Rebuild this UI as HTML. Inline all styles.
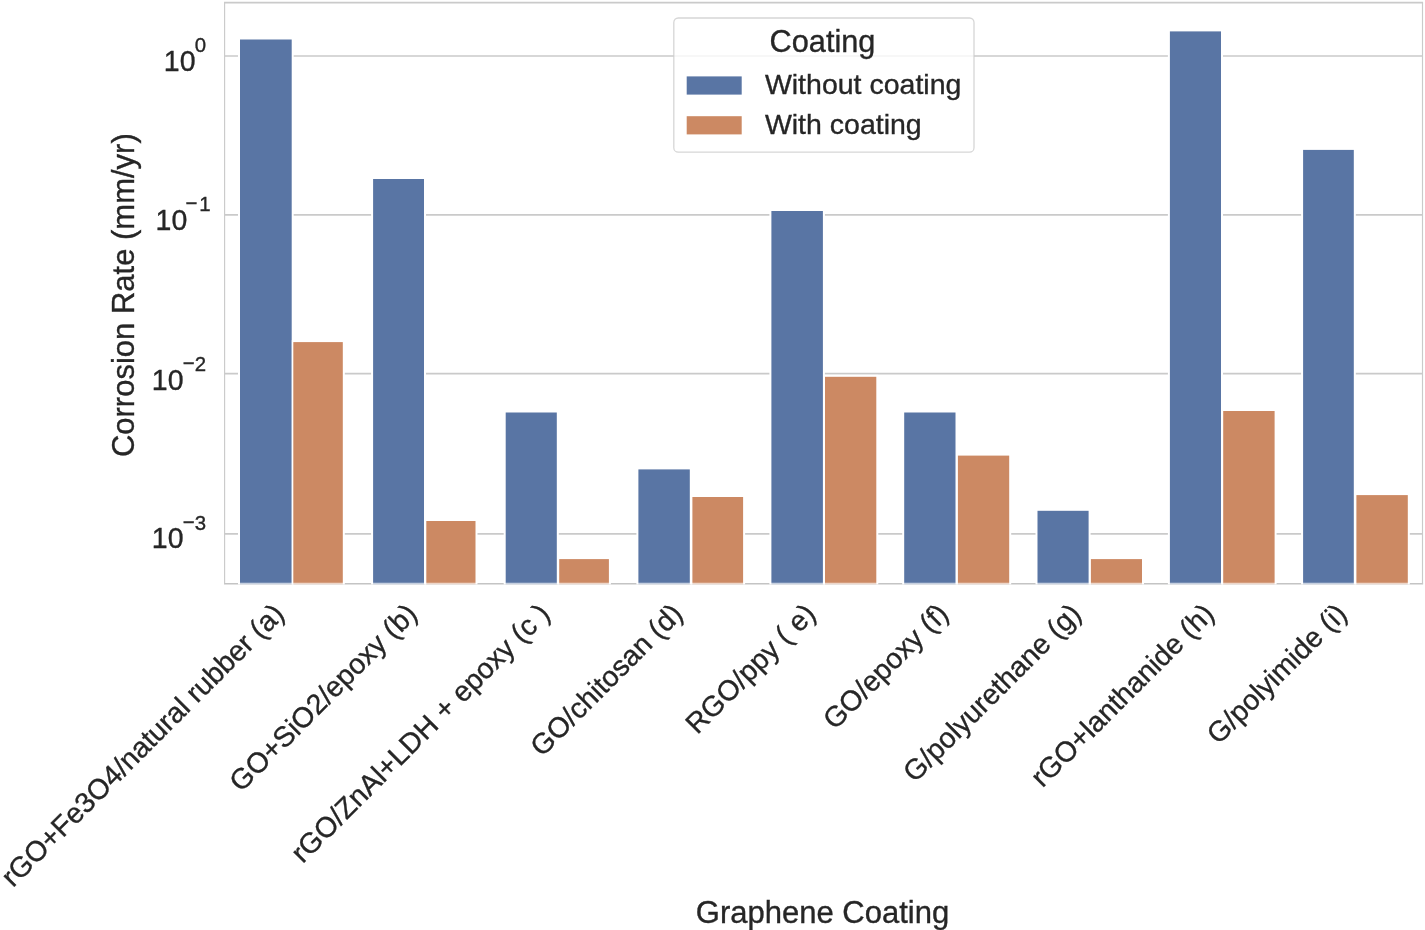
<!DOCTYPE html>
<html><head><meta charset="utf-8"><title>Corrosion rate chart</title>
<style>html,body{margin:0;padding:0;background:#fff}body{width:1425px;height:930px;overflow:hidden}svg{display:block}</style>
</head><body>
<svg width="1425" height="930" viewBox="0 0 1425 930" font-family="'Liberation Sans', Arial, sans-serif" fill="#262626" stroke="#262626" stroke-width="0.35">
<rect width="1425" height="930" fill="#fff" stroke="none"/>
<g id="grid">
<line x1="224.6" x2="1422.5" y1="56.0" y2="56.0" stroke="#cacaca" stroke-width="1.7"/>
<line x1="224.6" x2="1422.5" y1="214.8" y2="214.8" stroke="#cacaca" stroke-width="1.7"/>
<line x1="224.6" x2="1422.5" y1="373.7" y2="373.7" stroke="#cacaca" stroke-width="1.7"/>
<line x1="224.6" x2="1422.5" y1="533.9" y2="533.9" stroke="#cacaca" stroke-width="1.7"/>
</g>
<g id="spines">
<line x1="224.0" x2="1423.1" y1="2.7" y2="2.7" stroke="#cacaca" stroke-width="1.7"/>
<line x1="224.0" x2="1423.1" y1="583.65" y2="583.65" stroke="#c4c4c4" stroke-width="1.5"/>
<line x1="224.6" x2="224.6" y1="2.7" y2="583.65" stroke="#cacaca" stroke-width="1.15"/>
<line x1="1422.5" x2="1422.5" y1="2.7" y2="583.65" stroke="#cacaca" stroke-width="1.15"/>
</g>
<g id="bars" stroke="none">
<rect x="238.00" y="37.50" width="55.70" height="546.95" fill="#fff"/>
<rect x="240.00" y="39.50" width="51.70" height="543.30" fill="#5975a4"/>
<rect x="240.00" y="582.80" width="51.70" height="1.5" fill="#5975a4" fill-opacity="0.35"/>
<rect x="291.80" y="340.10" width="53.00" height="244.35" fill="#fff"/>
<rect x="293.30" y="342.10" width="49.50" height="240.70" fill="#cc8963"/>
<rect x="293.30" y="582.80" width="49.50" height="1.5" fill="#cc8963" fill-opacity="0.35"/>
<rect x="371.10" y="177.00" width="54.90" height="407.45" fill="#fff"/>
<rect x="373.10" y="179.00" width="50.90" height="403.80" fill="#5975a4"/>
<rect x="373.10" y="582.80" width="50.90" height="1.5" fill="#5975a4" fill-opacity="0.35"/>
<rect x="424.80" y="519.00" width="52.70" height="65.45" fill="#fff"/>
<rect x="426.30" y="521.00" width="49.20" height="61.80" fill="#cc8963"/>
<rect x="426.30" y="582.80" width="49.20" height="1.5" fill="#cc8963" fill-opacity="0.35"/>
<rect x="503.70" y="410.50" width="55.10" height="173.95" fill="#fff"/>
<rect x="505.70" y="412.50" width="51.10" height="170.30" fill="#5975a4"/>
<rect x="505.70" y="582.80" width="51.10" height="1.5" fill="#5975a4" fill-opacity="0.35"/>
<rect x="557.70" y="557.10" width="53.20" height="27.35" fill="#fff"/>
<rect x="559.20" y="559.10" width="49.70" height="23.70" fill="#cc8963"/>
<rect x="559.20" y="582.80" width="49.70" height="1.5" fill="#cc8963" fill-opacity="0.35"/>
<rect x="636.40" y="467.40" width="55.40" height="117.05" fill="#fff"/>
<rect x="638.40" y="469.40" width="51.40" height="113.40" fill="#5975a4"/>
<rect x="638.40" y="582.80" width="51.40" height="1.5" fill="#5975a4" fill-opacity="0.35"/>
<rect x="690.90" y="495.00" width="54.20" height="89.45" fill="#fff"/>
<rect x="692.40" y="497.00" width="50.70" height="85.80" fill="#cc8963"/>
<rect x="692.40" y="582.80" width="50.70" height="1.5" fill="#cc8963" fill-opacity="0.35"/>
<rect x="769.40" y="209.00" width="55.50" height="375.45" fill="#fff"/>
<rect x="771.40" y="211.00" width="51.50" height="371.80" fill="#5975a4"/>
<rect x="771.40" y="582.80" width="51.50" height="1.5" fill="#5975a4" fill-opacity="0.35"/>
<rect x="823.50" y="374.80" width="54.80" height="209.65" fill="#fff"/>
<rect x="825.00" y="376.80" width="51.30" height="206.00" fill="#cc8963"/>
<rect x="825.00" y="582.80" width="51.30" height="1.5" fill="#cc8963" fill-opacity="0.35"/>
<rect x="902.20" y="410.50" width="55.30" height="173.95" fill="#fff"/>
<rect x="904.20" y="412.50" width="51.30" height="170.30" fill="#5975a4"/>
<rect x="904.20" y="582.80" width="51.30" height="1.5" fill="#5975a4" fill-opacity="0.35"/>
<rect x="956.40" y="453.60" width="54.80" height="130.85" fill="#fff"/>
<rect x="957.90" y="455.60" width="51.30" height="127.20" fill="#cc8963"/>
<rect x="957.90" y="582.80" width="51.30" height="1.5" fill="#cc8963" fill-opacity="0.35"/>
<rect x="1035.50" y="508.80" width="55.10" height="75.65" fill="#fff"/>
<rect x="1037.50" y="510.80" width="51.10" height="72.00" fill="#5975a4"/>
<rect x="1037.50" y="582.80" width="51.10" height="1.5" fill="#5975a4" fill-opacity="0.35"/>
<rect x="1089.40" y="557.10" width="54.60" height="27.35" fill="#fff"/>
<rect x="1090.90" y="559.10" width="51.10" height="23.70" fill="#cc8963"/>
<rect x="1090.90" y="582.80" width="51.10" height="1.5" fill="#cc8963" fill-opacity="0.35"/>
<rect x="1167.90" y="29.40" width="55.10" height="555.05" fill="#fff"/>
<rect x="1169.90" y="31.40" width="51.10" height="551.40" fill="#5975a4"/>
<rect x="1169.90" y="582.80" width="51.10" height="1.5" fill="#5975a4" fill-opacity="0.35"/>
<rect x="1221.70" y="409.00" width="54.90" height="175.45" fill="#fff"/>
<rect x="1223.20" y="411.00" width="51.40" height="171.80" fill="#cc8963"/>
<rect x="1223.20" y="582.80" width="51.40" height="1.5" fill="#cc8963" fill-opacity="0.35"/>
<rect x="1301.10" y="147.90" width="54.70" height="436.55" fill="#fff"/>
<rect x="1303.10" y="149.90" width="50.70" height="432.90" fill="#5975a4"/>
<rect x="1303.10" y="582.80" width="50.70" height="1.5" fill="#5975a4" fill-opacity="0.35"/>
<rect x="1354.90" y="493.10" width="54.90" height="91.35" fill="#fff"/>
<rect x="1356.40" y="495.10" width="51.40" height="87.70" fill="#cc8963"/>
<rect x="1356.40" y="582.80" width="51.40" height="1.5" fill="#cc8963" fill-opacity="0.35"/>
</g>
<g id="yticks">
<text transform="translate(163.8,70.9) scale(1,1.04)" font-size="28.5">10</text>
<text x="194.7" y="51.9" font-size="20.4">0</text>
<text transform="translate(155.6,229.7) scale(1,1.04)" font-size="28.5">10</text>
<text x="185.4" y="210.0" font-size="20.4">−</text>
<text x="199.3" y="210.7" font-size="20.4">1</text>
<text transform="translate(151.8,389.7) scale(1,1.04)" font-size="28.5">10</text>
<text x="182.7" y="370.2" font-size="20.4">−</text>
<text x="194.7" y="370.8" font-size="20.4">2</text>
<text transform="translate(151.8,548.3) scale(1,1.04)" font-size="28.5">10</text>
<text x="182.7" y="529.1" font-size="20.4">−</text>
<text x="194.8" y="529.8" font-size="20.4">3</text>
</g>
<text transform="translate(134.0,295.2) rotate(-90)" text-anchor="middle" font-size="31">Corrosion Rate (mm/yr)</text>
<text x="822.5" y="922.5" text-anchor="middle" font-size="31">Graphene Coating</text>
<g id="xticks">
<text transform="translate(285.7,615.5) rotate(-45)" text-anchor="end" font-size="28.5">rGO+Fe3O4/natural rubber (a)</text>
<text transform="translate(418.6,615.5) rotate(-45)" text-anchor="end" font-size="28.5">GO+SiO2/epoxy (b)</text>
<text transform="translate(551.4,615.5) rotate(-45)" text-anchor="end" font-size="28.5">rGO/ZnAl+LDH + epoxy (c )</text>
<text transform="translate(684.2,615.5) rotate(-45)" text-anchor="end" font-size="28.5">GO/chitosan (d)</text>
<text transform="translate(817.1,615.5) rotate(-45)" text-anchor="end" font-size="28.5">RGO/ppy ( e)</text>
<text transform="translate(950.0,615.5) rotate(-45)" text-anchor="end" font-size="28.5">GO/epoxy (f)</text>
<text transform="translate(1082.8,615.5) rotate(-45)" text-anchor="end" font-size="28.5">G/polyurethane (g)</text>
<text transform="translate(1215.6,615.5) rotate(-45)" text-anchor="end" font-size="28.5">rGO+lanthanide (h)</text>
<text transform="translate(1348.5,615.5) rotate(-45)" text-anchor="end" font-size="28.5">G/polyimide (i)</text>
</g>
<g id="legend">
<rect x="673.8" y="18" width="300.2" height="134.2" rx="4.5" fill="#fff" fill-opacity="0.8" stroke="#cccccc" stroke-opacity="0.8" stroke-width="1.3"/>
<text x="822.5" y="51.8" text-anchor="middle" font-size="30.7">Coating</text>
<rect x="686.7" y="76.4" width="55" height="18.2" fill="#5975a4" stroke="none"/>
<rect x="686.7" y="116.2" width="55" height="18.2" fill="#cc8963" stroke="none"/>
<text x="764.9" y="93.8" font-size="28.5">Without coating</text>
<text x="764.9" y="133.6" font-size="28.5">With coating</text>
</g>
</svg>
</body></html>
